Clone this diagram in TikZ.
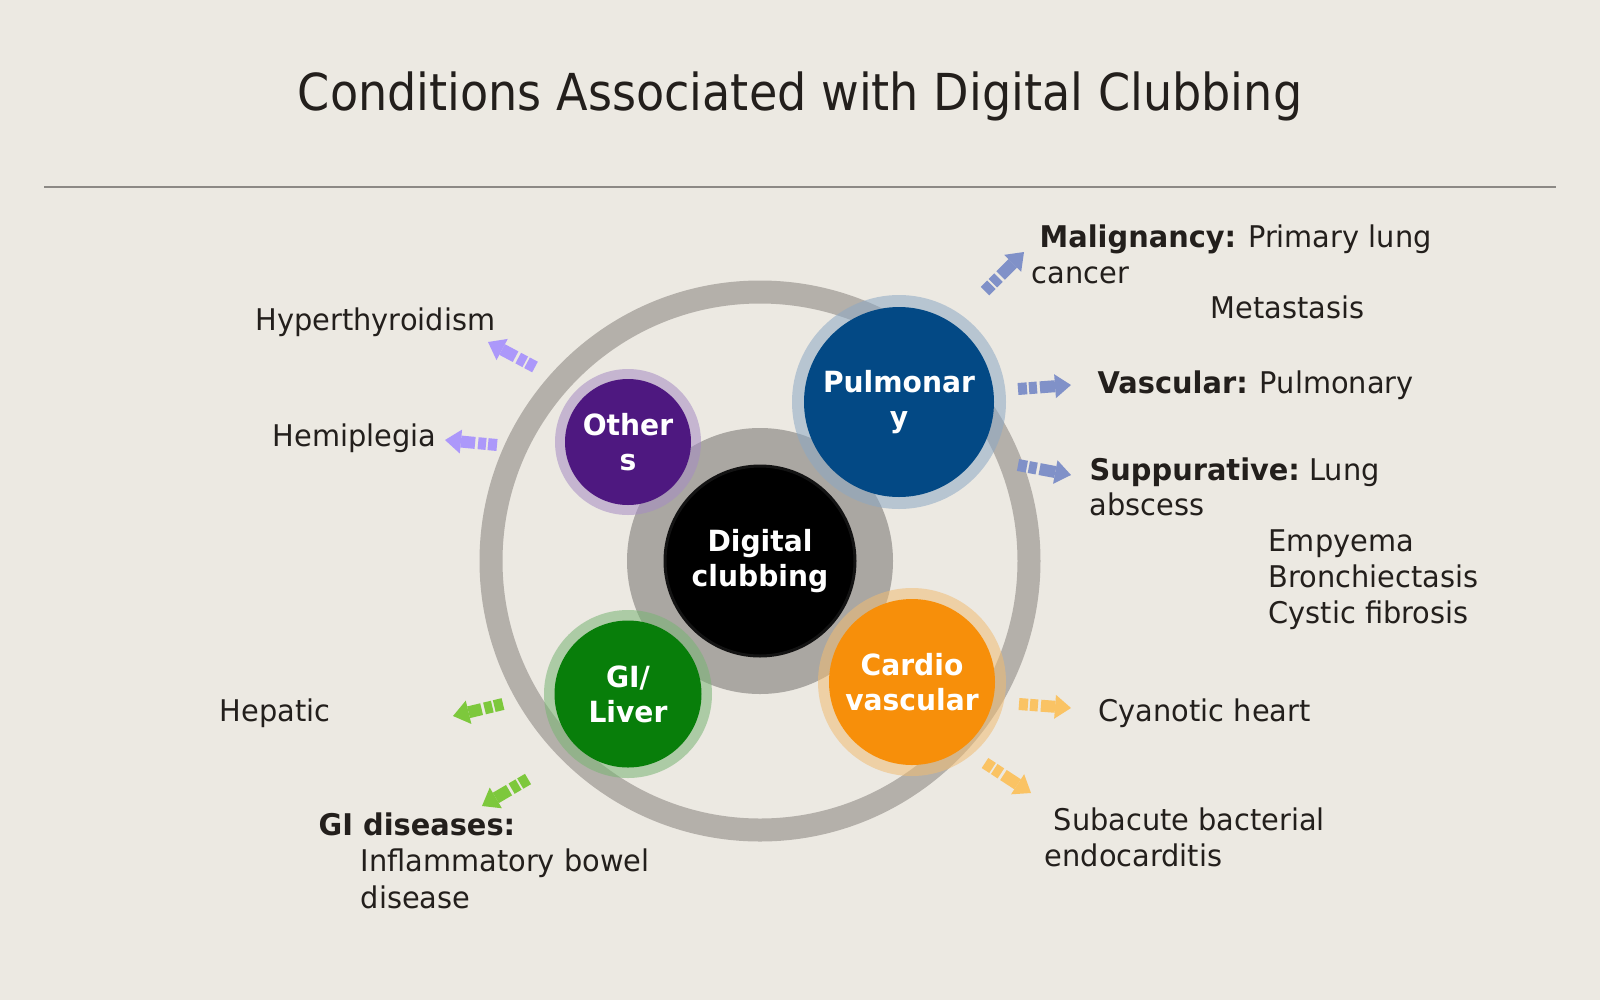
\documentclass[tikz,border=0pt]{standalone}
\usepackage{fontspec}
\setmainfont[FakeStretch=0.965]{DejaVu Sans}
\newfontfamily\titlefont[FakeStretch=0.905]{DejaVu Sans}
\usetikzlibrary{positioning, math, arrows.meta}
\definecolor{paper}{RGB}{236,233,226}
\definecolor{ink}{RGB}{35,31,28}
\definecolor{rule}{RGB}{140,137,133}
\definecolor{ringgray}{RGB}{180,176,170}
\definecolor{diskgray}{RGB}{170,167,162}
\definecolor{pulmblue}{RGB}{3,73,133}
\definecolor{pulmhalo}{RGB}{140,168,196}
\definecolor{othpurple}{RGB}{78,24,128}
\definecolor{othhalo}{RGB}{165,140,195}
\definecolor{gigreen}{RGB}{8,126,10}
\definecolor{gihalo}{RGB}{120,180,115}
\definecolor{cardorange}{RGB}{247,143,10}
\definecolor{cardhalo}{RGB}{240,188,115}
\definecolor{arrblue}{RGB}{128,145,200}
\definecolor{arrpurple}{RGB}{172,152,250}
\definecolor{arrgreen}{RGB}{125,200,60}
\definecolor{arrorange}{RGB}{250,195,100}
\tikzset{
bubble/.style={circle, text=white, align=center, inner sep=0pt,
  font=\bfseries\fontsize{8.3}{10}\selectfont},
halo/.style={circle, fill opacity=0.55, inner sep=0pt},
txt/.style={anchor=base west, inner sep=0pt, text=ink,
  font=\fontsize{8.5}{10}\selectfont},
darrow/.style={line width=1.2mm,
  dash pattern=on 0.9mm off 0.2mm on 0.8mm off 0.3mm on 5mm,
  -{Triangle[length=1.6mm,width=2.4mm,line width=0pt]}},
}

\begin{document}
\begin{tikzpicture}[x=0.1mm, y=-0.1mm]
    \fill[paper] (0,0) rectangle (1600,1000);
    \useasboundingbox (0,0) rectangle (1600,1000);

    %title
    \node[anchor=base, inner sep=0pt, text=ink, font=\titlefont\fontsize{14.5}{17}\selectfont]
        (title) at (800,110) {Conditions Associated with Digital Clubbing};
    \coordinate (r0) at (44,187);
    \coordinate (r1) at (1556,187);
    \draw[rule, line width=0.45pt] (r0)--(r1);

    %rings
    \coordinate (mid) at (760,561);
    \draw[ringgray, line width=2.3mm] (mid) circle[radius=26.9mm];
    \fill[diskgray] (mid) circle[radius=13.3mm];

    %halos
    \node[halo, fill=pulmhalo, minimum size=21.4mm] at (899,402) { };
    \node[halo, fill=othhalo,  minimum size=14.6mm] at (628,442) { };
    \node[halo, fill=gihalo,   minimum size=16.8mm] at (628,694) { };
    \node[halo, fill=cardhalo, minimum size=18.8mm] at (912,682) { };

    %bubbles
    \node[bubble, fill=pulmblue,   minimum size=19mm]   (pulm) at (899,402) {Pulmonar\\y};
    \node[bubble, fill=othpurple,  minimum size=12.6mm] (oth)  at (628,442) {Other\\s};
    \node[bubble, fill=gigreen,    minimum size=14.7mm] (gi)   at (628,694) {GI/\\Liver};
    \node[bubble, fill=cardorange, minimum size=16.6mm] (card) at (912,682) {Cardio\\vascular};
    \node[bubble, fill=black, draw=black!85!gray, line width=0.3mm, minimum size=19mm]
        (dig) at (mid) {Digital\\clubbing};

    %arrow ends
    \coordinate (t1) at (985,291);  \coordinate (h1) at (1024,252);
    \coordinate (t2) at (1018,389); \coordinate (h2) at (1071,385);
    \coordinate (t3) at (1018,465); \coordinate (h3) at (1071,475);
    \coordinate (t4) at (535,367);  \coordinate (h4) at (488,342);
    \coordinate (t5) at (497,445);  \coordinate (h5) at (445,440);
    \coordinate (t6) at (503,704);  \coordinate (h6) at (453,716);
    \coordinate (t7) at (528,779);  \coordinate (h7) at (482,806);
    \coordinate (t8) at (1019,704); \coordinate (h8) at (1071,708);
    \coordinate (t9) at (985,763);  \coordinate (h9) at (1031,793);

    \draw[darrow, arrblue]   (t1)--(h1);
    \draw[darrow, arrblue]   (t2)--(h2);
    \draw[darrow, arrblue]   (t3)--(h3);
    \draw[darrow, arrpurple] (t4)--(h4);
    \draw[darrow, arrpurple] (t5)--(h5);
    \draw[darrow, arrgreen]  (t6)--(h6);
    \draw[darrow, arrgreen]  (t7)--(h7);
    \draw[darrow, arrorange] (t8)--(h8);
    \draw[darrow, arrorange] (t9)--(h9);

    %pulmonary labels
    \node[txt] (mal)  at (1039,247) {\textbf{Malignancy:}\hspace{1.2mm}Primary lung};
    \node[txt] (can)  at (1031,283) {cancer};
    \node[txt] (meta) at (1210,318) {Metastasis};
    \node[txt] (vasc) at (1097,393) {\textbf{Vascular:} Pulmonary};
    \node[txt] (supp) at (1089,480) {\textbf{Suppurative:}~Lung};
    \node[txt] (absc) at (1089,515) {abscess};
    \node[txt] (emp)  at (1268,551) {Empyema};
    \node[txt] (bron) at (1268,587) {Bronchiectasis};
    \node[txt] (cyst) at (1268,623) {Cystic fibrosis};

    %others labels
    \node[txt] (hyp)  at (255,330) {Hyperthyroidism};
    \node[txt] (hemi) at (272,446) {Hemiplegia};

    %gi labels
    \node[txt] (hep)  at (219,721) {Hepatic};
    \node[txt] (gid)  at (318,835) {\textbf{GI diseases:}};
    \node[txt] (ibd)  at (360,871) {Inflammatory bowel};
    \node[txt] (dis)  at (360,908) {disease};

    %cardio labels
    \node[txt] (cyan) at (1098,721) {Cyanotic heart};
    \node[txt] (sub)  at (1053,830) {Subacute bacterial};
    \node[txt] (endo) at (1044,866) {endocarditis};

\end{tikzpicture}
\end{document}
